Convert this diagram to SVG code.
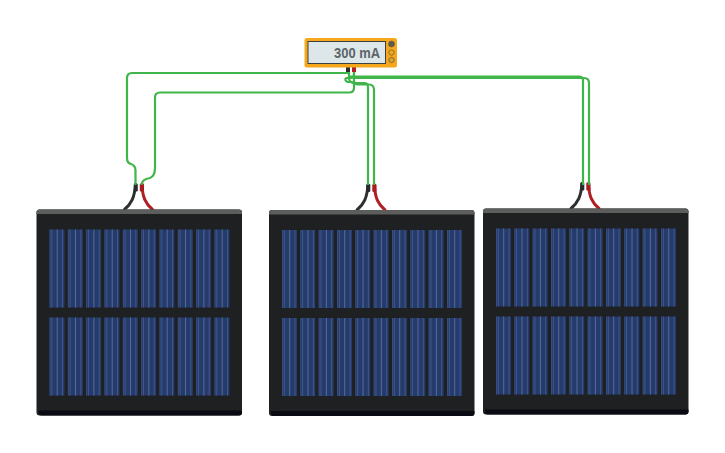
<svg xmlns="http://www.w3.org/2000/svg" width="725" height="453" viewBox="0 0 725 453">
<style>
.w{fill:none;stroke:#3fb54a;stroke-width:2.200;stroke-linejoin:round}
.lb{fill:none;stroke:#2f2f2f;stroke-width:3;stroke-linecap:round}
.lr{fill:none;stroke:#b01f24;stroke-width:3;stroke-linecap:round}
.s1{fill:#41578a}.s2{fill:#586c96}
</style>
<defs>
<g id="col">
<rect x="0" width="15" height="78" fill="#243b6c"/>
<rect x="0" width="1" height="78" fill="#364c80"/>
<rect x="1.800" width="1" height="78" class="s1"/>
<rect x="7.200" width="1" height="78" class="s2"/>
<rect x="12.500" width="1" height="78" class="s1"/>
</g>
<g id="row">
<use href="#col" x="0"/><use href="#col" x="18.330"/><use href="#col" x="36.660"/><use href="#col" x="55"/><use href="#col" x="73.330"/><use href="#col" x="91.660"/><use href="#col" x="110"/><use href="#col" x="128.330"/><use href="#col" x="146.660"/><use href="#col" x="165"/>
</g>
<g id="panel">
<path class="lb" d="M99 -25C98 -12 95 -6 88 0"/>
<path class="lr" d="M105.500 -25C106 -12 109 -6 116 0"/>
<rect x="97.300" y="-26" width="4" height="8" rx="1.200" fill="#2a2a2a"/>
<rect x="103.300" y="-26" width="4.200" height="8" rx="1.200" fill="#a81c22"/>
<rect x="0" y="0" width="205.500" height="206" rx="3" fill="#1f2021"/>
<path d="M0 4.500V3Q0 0 3 0H202.500Q205.500 0 205.500 3V4.500Z" fill="#5c5e5e"/>
<path d="M2 201H205.500V203Q205.500 206 202.500 206H5Q2 206 2 203Z" fill="#0a0a14"/>
<use href="#row" x="13" y="20"/>
<use href="#row" x="13" y="108"/>
</g>
</defs>
<g id="panel1"><use href="#panel" x="36.500" y="209.500"/></g>
<g id="panel2"><use href="#panel" x="269" y="210"/></g>
<g id="panel3"><use href="#panel" x="483" y="208.500"/></g>
<g id="connectors">
<path class="w" d="M348 71V73H132Q127 73 127 78V158Q127 163 131 164Q135 165 135.500 170V185"/>
<path class="w" d="M354 71V74Q354 78 351 78H347Q345 78 345.500 80Q346 82 349 82H351Q354 82 354 84V88Q354 92.500 349 92.500H160Q155 92.500 155 97.500V168Q155 176 150 178Q142 179 141.500 185"/>
<path class="w" d="M349 72V79Q350 83 354 83H364Q368 83 368 87V185"/>
<path class="w" d="M354 72V80Q354 84.500 358 84.500H369Q374 84.500 374 90V185"/>
<path class="w" d="M349 76.500H579Q583 76.500 583 80V185"/>
<path class="w" d="M354 78H584Q589 78 589 83V185"/>
</g>
<g id="ammeter">
<rect x="346" y="66" width="4" height="6" fill="#2b2b2b"/>
<rect x="352" y="66" width="4" height="6" fill="#b01f24"/>
<rect x="304.500" y="38" width="92.500" height="29.500" rx="2.500" fill="#f5a81c"/>
<rect x="308" y="41.500" width="77.500" height="22" fill="#dde6e8" stroke="#3a4146" stroke-width="1"/>
<text x="380" y="57.500" text-anchor="end" textLength="46" lengthAdjust="spacingAndGlyphs" font-family="'Liberation Sans',Arial,sans-serif" font-size="14.500" font-weight="bold" fill="#5a6368">300 mA</text>
<circle cx="391.500" cy="44" r="3" fill="#5a5a52" stroke="#6b5a30" stroke-width=".6"/>
<circle cx="391.500" cy="52.500" r="2.700" fill="#f5a81c" stroke="#8a6f35" stroke-width="1"/>
<circle cx="391.500" cy="60" r="2.700" fill="#d9a030" stroke="#8a6f35" stroke-width="1"/>
</g>
</svg>
